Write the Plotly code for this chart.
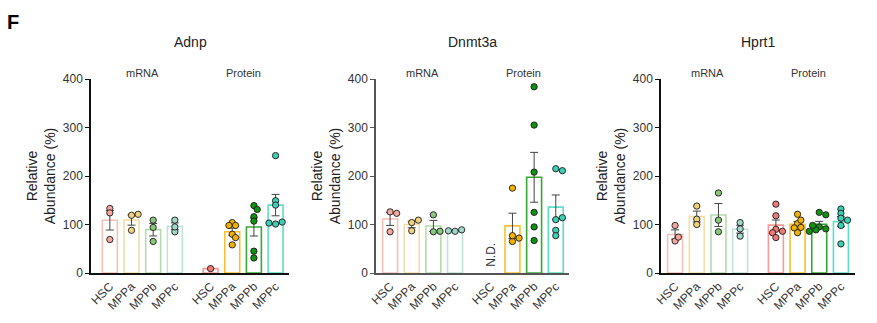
import numpy as np
import plotly.graph_objects as go

# ---- data: relative abundance (%) per replicate ----
CELL_TYPES = ["HSC", "MPPa", "MPPb", "MPPc"]
GENES = ["Adnp", "Dnmt3a", "Hprt1"]

adnp_mrna = {"HSC": [133, 124, 69], "MPPa": [119, 121, 88],
             "MPPb": [109, 94, 65], "MPPc": [109, 85, 95]}
adnp_protein = {"HSC": [9], "MPPa": [104, 98, 98, 80, 73, 58],
                "MPPb": [139, 131, 116, 107, 45, 31],
                "MPPc": [242, 149, 140, 101, 105, 103]}

dnmt3a_mrna = {"HSC": [126, 123, 85], "MPPa": [104, 109, 87],
               "MPPb": [120, 85, 86], "MPPc": [86, 89, 87]}
dnmt3a_protein = {"HSC": [], "MPPa": [175, 65, 77, 72],
                  "MPPb": [384, 305, 208, 125, 95, 67],
                  "MPPc": [215, 211, 110, 114, 88, 77]}

hprt1_mrna = {"HSC": [98, 66, 74], "MPPa": [138, 111, 100],
              "MPPb": [165, 109, 85], "MPPc": [104, 91, 76]}
hprt1_protein = {"HSC": [142, 118, 90, 86, 83, 73],
                 "MPPa": [121, 102, 109, 94, 93, 83],
                 "MPPb": [125, 120, 95, 91, 89, 86, 98],
                 "MPPc": [132, 123, 113, 109, 98, 60]}

panels = [("Adnp", adnp_mrna, adnp_protein),
          ("Dnmt3a", dnmt3a_mrna, dnmt3a_protein),
          ("Hprt1", hprt1_mrna, hprt1_protein)]

# ---- styling ----
FONT = "Arial, Liberation Sans, Helvetica, sans-serif"
MRNA_EDGE = {"HSC": "#f6c0b6", "MPPa": "#f2dea4", "MPPb": "#b2dcab", "MPPc": "#c0e3d9"}
MRNA_DOT = {"HSC": "#f4a79e", "MPPa": "#f0d27c", "MPPb": "#8ac97d", "MPPc": "#a2d8ca"}
PROT_EDGE = {"HSC": "#f49c95", "MPPa": "#f7c02e", "MPPb": "#35a835", "MPPc": "#5cdfc6"}
PROT_DOT = {"HSC": "#f07a77", "MPPa": "#f2b300", "MPPb": "#0f920f", "MPPc": "#3ccfb4"}

W, H = 877, 323
Y_TOP_PX, Y_BOT_PX = 79, 273
GROUP_GAP = 1.65
positions = [0, 1, 2, 3] + [3 + GROUP_GAP + i for i in range(4)]
x_ranges = [(-0.87, 8.27), (-0.65, 8.26), (-0.65, 8.30)]
x_px = [(91, 289), (376, 569), (661, 855)]
axis_colors = ["#111111", "#555555", "#111111"]

BAR_W = 0.69
DOT_D = 5.5  # px


def beeswarm(values, px_per_unit_x, px_per_unit_y, d=DOT_D):
    """Horizontal offsets (x units) so dots do not pile on top of each other."""
    placed = []
    offsets = []
    step = 0.6 * d
    for v in values:
        yv = v * px_per_unit_y
        for k in [0, 1, -1, 2, -2, 3, -3]:
            xo = k * step
            if all(np.hypot(xo - px, yv - py) >= 0.78 * d for px, py in placed):
                break
        placed.append((xo, yv))
        offsets.append(xo / px_per_unit_x)
    return offsets


fig = go.Figure()
layout = dict(
    width=W, height=H, margin=dict(l=0, r=0, t=0, b=0, autoexpand=False),
    paper_bgcolor="white", plot_bgcolor="white",
    barmode="overlay", showlegend=False,
    font=dict(family=FONT, size=12, color="#333333"),
)

ydom = [(H - Y_BOT_PX) / H, (H - Y_TOP_PX) / H]
annotations = []

for i, (gene, mrna, prot) in enumerate(panels):
    n = "" if i == 0 else str(i + 1)
    xa, ya = "x" + n, "y" + n
    x0, x1 = x_px[i]
    xr = x_ranges[i]
    pxu_x = (x1 - x0) / (xr[1] - xr[0])
    pxu_y = (Y_BOT_PX - Y_TOP_PX) / 400.0

    groups = [(mrna, MRNA_EDGE, MRNA_DOT, 0), (prot, PROT_EDGE, PROT_DOT, 4)]
    for data, edge, dot, base in groups:
        for j, ct in enumerate(CELL_TYPES):
            vals = np.array(data[ct], dtype=float)
            pos = positions[base + j]
            if len(vals) == 0:
                continue
            mean = vals.mean()
            err = None
            if len(vals) > 1:
                sem = vals.std(ddof=1) / np.sqrt(len(vals))
                err = dict(type="data", array=[sem], color="#444444",
                           thickness=1, width=4)
            fig.add_trace(go.Bar(
                x=[pos], y=[mean], width=BAR_W, xaxis=xa, yaxis=ya,
                marker=dict(color="rgba(255,255,255,0)",
                            line=dict(color=edge[ct], width=1.6)),
                error_y=err, hoverinfo="skip",
            ))
            offs = beeswarm(vals, pxu_x, pxu_y)
            fig.add_trace(go.Scatter(
                x=[pos + o for o in offs], y=vals, mode="markers",
                xaxis=xa, yaxis=ya, cliponaxis=False,
                marker=dict(size=DOT_D + 0.8, color=dot[ct],
                            line=dict(color="#1a1a1a", width=0.9)),
                hoverinfo="skip",
            ))

    layout["xaxis" + n] = dict(
        domain=[x0 / W, x1 / W], range=list(xr), anchor=ya,
        automargin=False,
        tickvals=positions, ticktext=CELL_TYPES * 2, tickangle=-45,
        showline=True, linecolor=axis_colors[i], linewidth=1.5,
        ticks="", showgrid=False, zeroline=False,
        tickfont=dict(size=12, color="#333333"),
    )
    layout["yaxis" + n] = dict(
        domain=ydom, range=[0, 400], anchor=xa,
        automargin=False,
        tickvals=[0, 100, 200, 300, 400],
        showline=True, linecolor=axis_colors[i], linewidth=1.5,
        ticks="outside", ticklen=4, tickwidth=1, tickcolor=axis_colors[i],
        showgrid=False, zeroline=False,
        tickfont=dict(size=12, color="#333333"),
        title=dict(text="Relative<br>Abundance (%)", standoff=4,
                   font=dict(size=14, color="#222222")),
    )

    # gene title
    annotations.append(dict(
        x=(x0 + x1) / 2 / W, y=1 - 42 / H, xref="paper", yref="paper",
        text=gene, showarrow=False, font=dict(size=14, color="#222222"),
        xanchor="center", yanchor="middle"))
    # group labels
    annotations.append(dict(
        x=sum(positions[:4]) / 4, y=1 - 73 / H, xref=xa, yref="paper",
        text="mRNA", showarrow=False, font=dict(size=11, color="#333333"),
        xanchor="center", yanchor="middle"))
    annotations.append(dict(
        x=sum(positions[4:]) / 4, y=1 - 73 / H, xref=xa, yref="paper",
        text="Protein", showarrow=False, font=dict(size=11, color="#333333"),
        xanchor="center", yanchor="middle"))
    # not-detected marker
    for j, ct in enumerate(CELL_TYPES):
        if len(prot[ct]) == 0:
            annotations.append(dict(
                x=positions[4 + j], y=0, xref=xa, yref=ya, text="N.D.",
                textangle=-90, showarrow=False, yanchor="bottom",
                xanchor="center", yshift=4,
                font=dict(size=12, color="#333333")))

annotations.append(dict(
    x=5 / W, y=1 - 22 / H, xref="paper", yref="paper", text="<b>F</b>",
    showarrow=False, xanchor="left", yanchor="middle",
    font=dict(size=20, color="#000000")))

layout["annotations"] = annotations
fig.update_layout(**layout)
fig.write_html("out.html")
